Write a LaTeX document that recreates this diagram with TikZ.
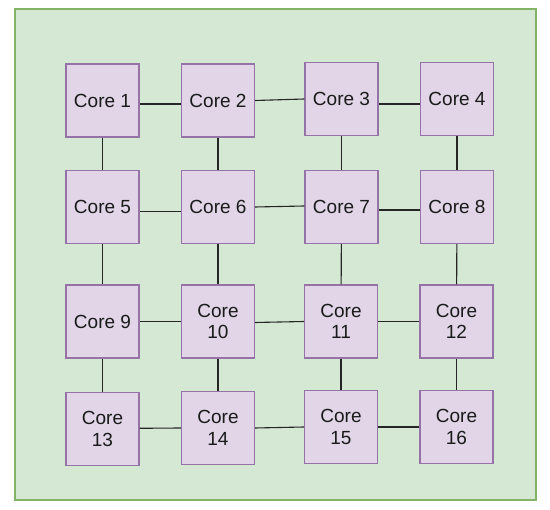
\documentclass[tikz,border=0pt]{standalone}
\usepackage{fontspec}
\setmainfont{Liberation Sans}
\definecolor{bgfill}{HTML}{D5E8D4}
\definecolor{bgdraw}{HTML}{82B366}
\definecolor{corefill}{HTML}{E1D5E7}
\definecolor{coredraw}{HTML}{9673A6}
\definecolor{txt}{HTML}{1A1A1A}
\tikzset{
  corebox/.style={draw=coredraw, fill=corefill, line width=1.2pt, minimum width=73pt, minimum height=73pt, inner sep=0pt, align=center, text=txt, font=\fontsize{19}{21.5}\selectfont},
  link/.style={draw=black!85, line width=1.1pt},
}
\begin{document}
\begin{tikzpicture}[x=1pt,y=-1pt]
\useasboundingbox (0,0) rectangle (550,510);
\node[draw=bgdraw, fill=bgfill, line width=1.2pt, minimum width=521pt, minimum height=491pt, inner sep=0pt] (bg) at (275.5,254.5) {};
% row 1
\node[corebox] (c1) at (102.5,100.5) {Core 1};
\node[corebox] (c2) at (218,100.5) {Core 2};
\node[corebox] (c3) at (341.5,99) {Core 3};
\node[corebox] (c4) at (457,99) {Core 4};
% row 2
\node[corebox] (c5) at (102.5,207) {Core 5};
\node[corebox] (c6) at (218,207) {Core 6};
\node[corebox] (c7) at (341.5,207) {Core 7};
\node[corebox] (c8) at (457,207) {Core 8};
% row 3
\node[corebox] (c9) at (102.5,321.5) {Core 9};
\node[corebox] (c10) at (218,321.5) {Core\\10};
\node[corebox] (c11) at (341,321.5) {Core\\11};
\node[corebox] (c12) at (456.5,321.5) {Core\\12};
% row 4
\node[corebox] (c13) at (102.5,429) {Core\\13};
\node[corebox] (c14) at (218,428) {Core\\14};
\node[corebox] (c15) at (341,427) {Core\\15};
\node[corebox] (c16) at (456.5,427) {Core\\16};
% horizontal links
\draw[link] ([yshift=-3.5pt]c1.east) -- ([yshift=-3.5pt]c2.west);
\draw[link] (c2.east) -- (c3.west);
\draw[link] ([yshift=-5pt]c3.east) -- ([yshift=-5pt]c4.west);
\draw[link] ([yshift=-4.7pt]c5.east) -- ([yshift=-4.7pt]c6.west);
\draw[link] (c6.east) -- ([yshift=1pt]c7.west);
\draw[link] ([yshift=-3pt]c7.east) -- ([yshift=-3pt]c8.west);
\draw[link] (c9.east) -- (c10.west);
\draw[link] ([yshift=-1pt]c10.east) -- (c11.west);
\draw[link] (c11.east) -- (c12.west);
\draw[link] ([yshift=0.7pt]c13.east) -- (c14.west);
\draw[link] (c14.east) -- (c15.west);
\draw[link] (c15.east) -- (c16.west);
% vertical links
\draw[link] (c1) -- (c5);
\draw[link] (c2) -- (c6);
\draw[link] (c3) -- (c7);
\draw[link] (c4) -- (c8);
\draw[link] (c5) -- (c9);
\draw[link] (c6) -- (c10);
\draw[link] (c7) -- (c11);
\draw[link] (c8) -- (c12);
\draw[link] (c9) -- (c13);
\draw[link] (c10) -- (c14);
\draw[link] (c11) -- (c15);
\draw[link] (c12) -- (c16);
\end{tikzpicture}
\end{document}
